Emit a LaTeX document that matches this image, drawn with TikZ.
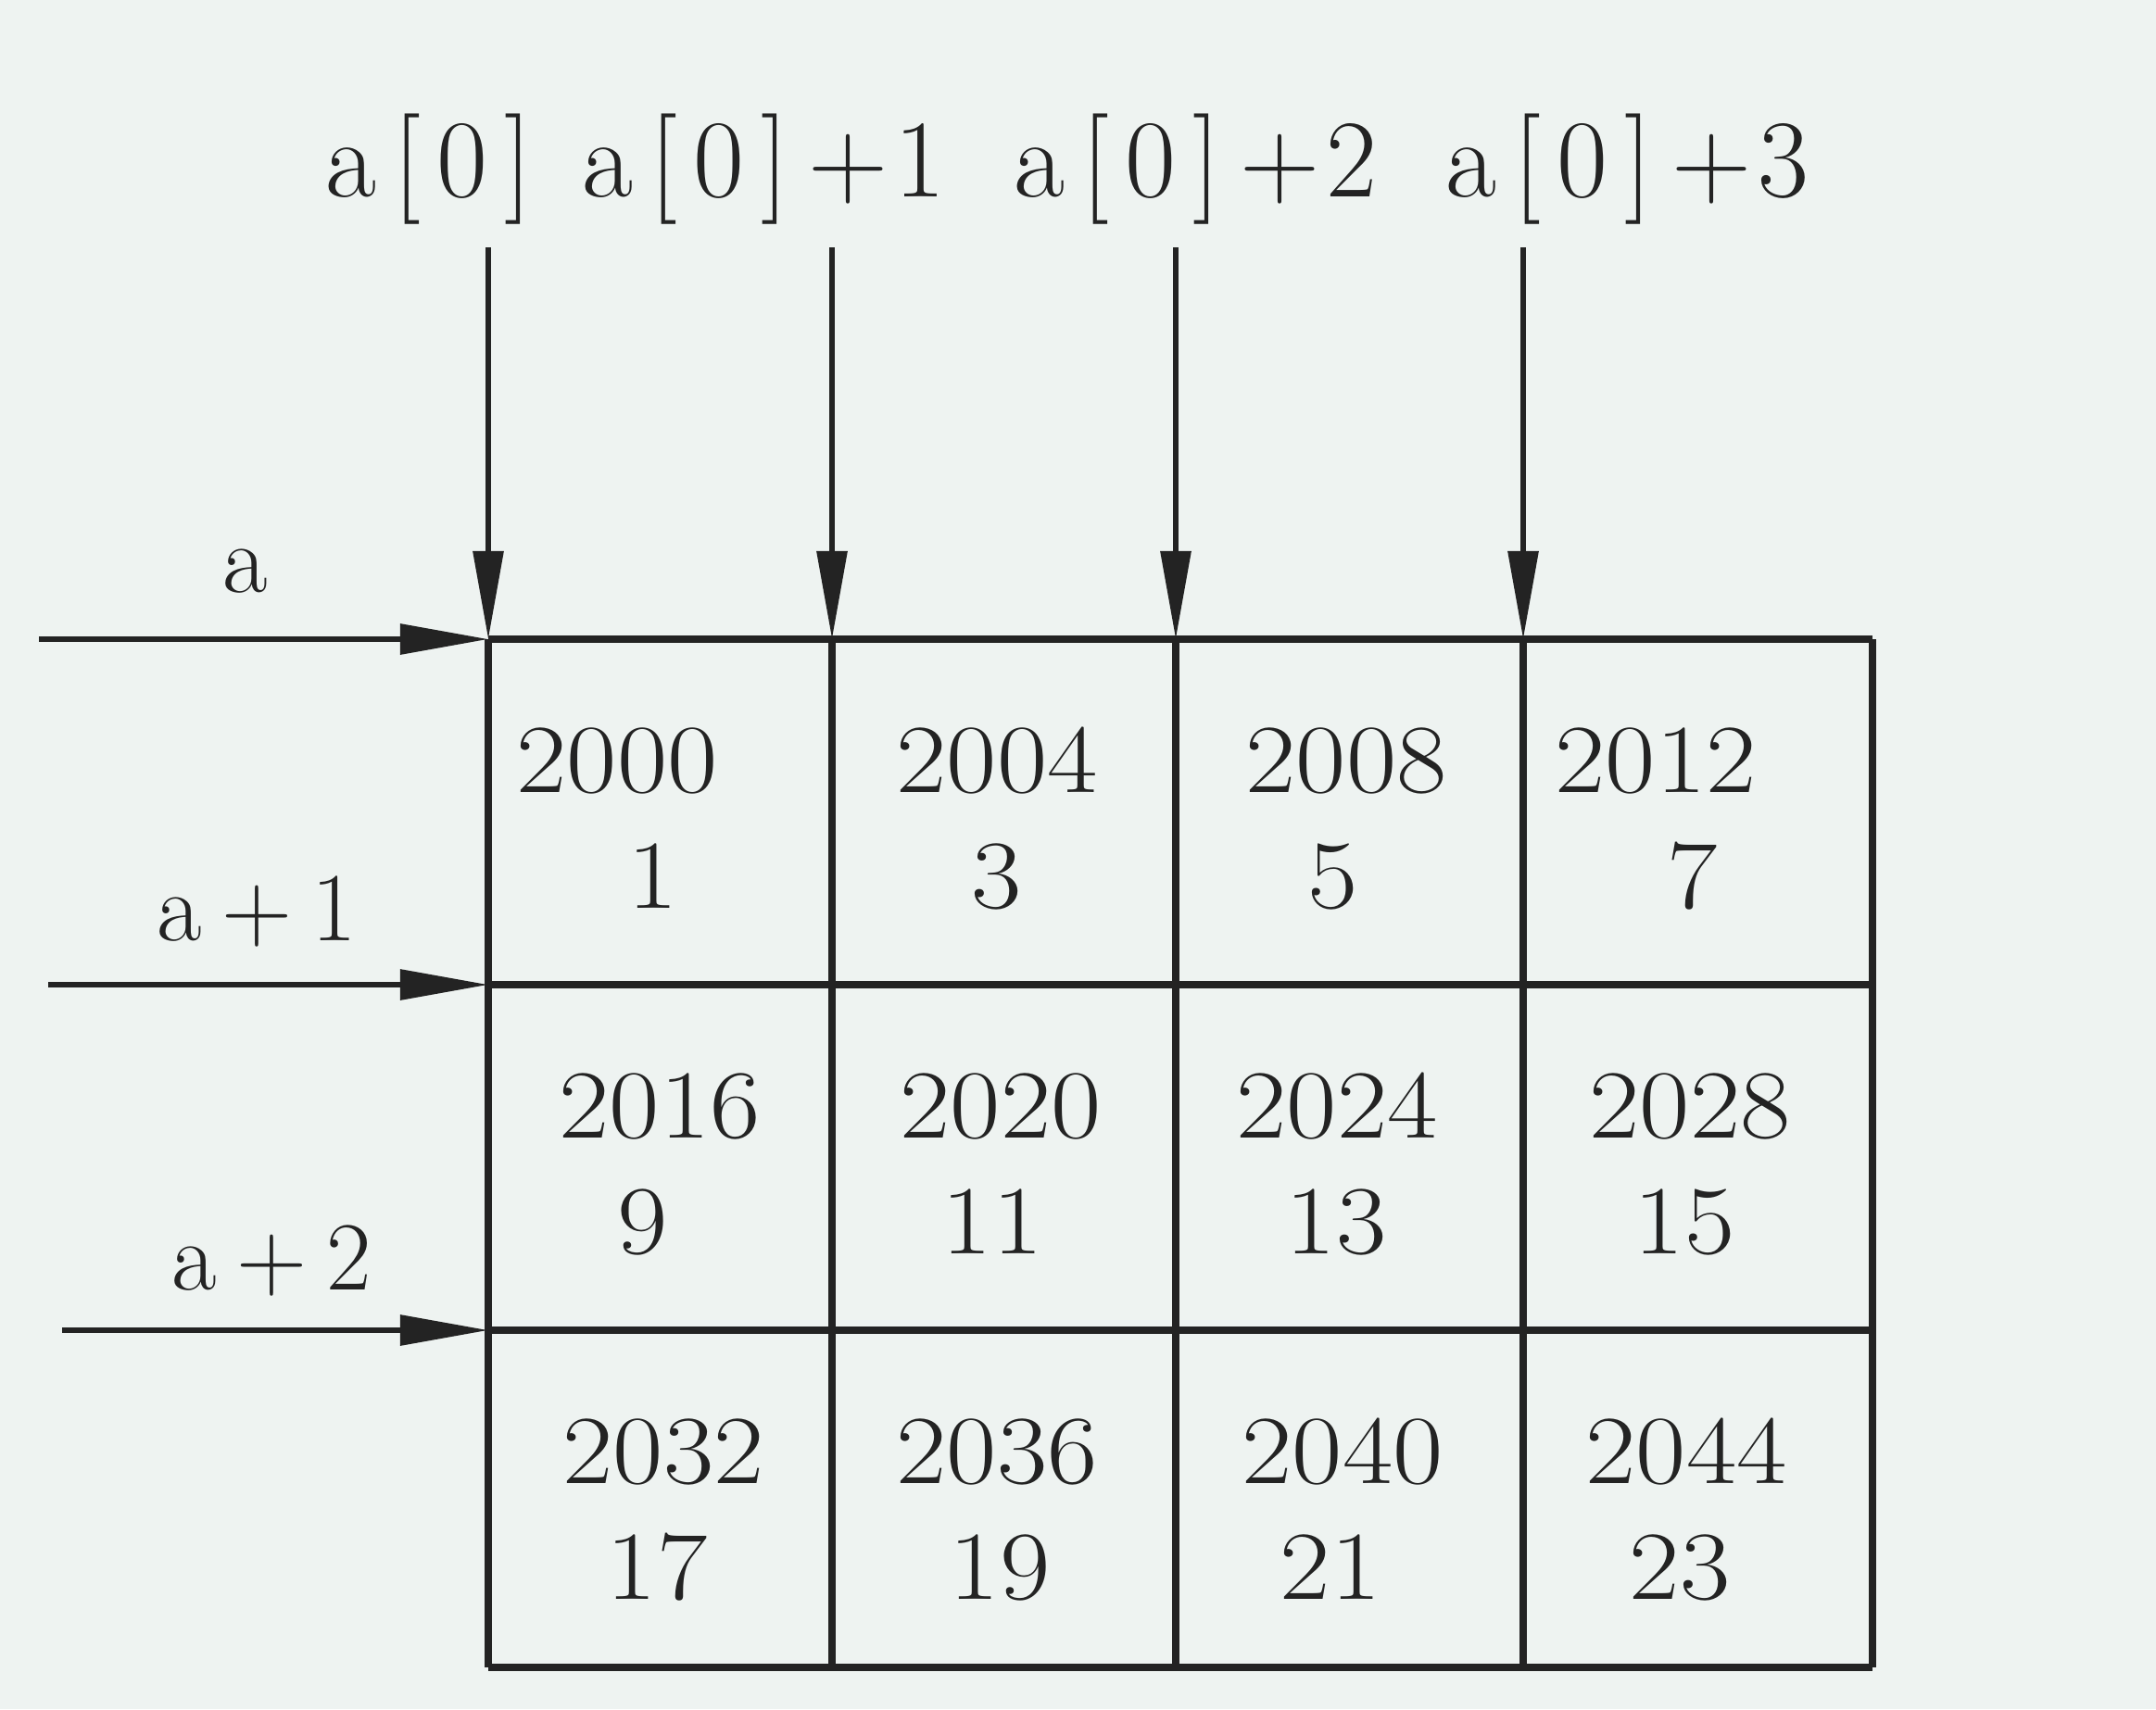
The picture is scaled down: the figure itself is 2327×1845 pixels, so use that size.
\documentclass[tikz,border=0pt]{standalone}
\usetikzlibrary{arrows.meta,calc}
\definecolor{bgc}{RGB}{238,243,241}
\definecolor{ink}{RGB}{35,35,35}
\newcommand{\azero}{a\kern5pt[\kern5pt0\kern5pt]}
\newcommand{\azplus}[1]{\azero\kern6pt+\kern2pt#1}
\newcommand{\widenum}[1]{\scalebox{1.12}[1]{#1}}
\begin{document}
\begin{tikzpicture}[x=0.01cm,y=-0.01cm,
  gridline/.style={draw=ink,line width=2.1pt},
  arr/.style={draw=ink,line width=1.7pt,-{Triangle[length=9.5mm,width=3.2mm]}},
  cell/.style={anchor=base,text=ink,font=\fontsize{30}{36}\selectfont,inner sep=0pt},
  toplab/.style={anchor=base west,text=ink,font=\fontsize{34}{40}\selectfont,inner sep=0pt},
  leftlab/.style={anchor=base,text=ink,font=\fontsize{30}{36}\selectfont,inner sep=0pt}]
\useasboundingbox (0,0) rectangle (2327,1845);
\fill[bgc] (0,0) rectangle (2327,1845);
% grid corner coordinates
\foreach \c/\x in {0/527,1/898,2/1269,3/1644,4/2021}{
  \foreach \r/\y in {0/690,1/1063,2/1436,3/1800}{
    \coordinate (g-\r-\c) at (\x,\y);
  }
}
% grid
\foreach \r in {0,1,2,3}{\draw[gridline] (g-\r-0) -- (g-\r-4);}
\foreach \c in {0,1,2,3,4}{\draw[gridline] (g-0-\c) -- (g-3-\c);}
% cells: row/col/row-top y/address x/value x
\foreach \r/\c/\ry/\ax/\vx in {0/0/690/666/705,0/1/690/1076/1076,0/2/690/1453/1439,0/3/690/1787/1827,
                           1/0/1063/712/694,1/1/1063/1080/1071,1/2/1063/1443/1442,1/3/1063/1824/1818,
                           2/0/1436/716/709,2/1/1436/1076/1079,2/2/1436/1449/1436,2/3/1436/1820/1813}{
    \pgfmathtruncatemacro{\k}{4*\r+\c}
    \pgfmathtruncatemacro{\addr}{2000+4*\k}
    \pgfmathtruncatemacro{\val}{2*\k+1}
    \pgfmathtruncatemacro{\ay}{\ry+165}
    \pgfmathtruncatemacro{\vy}{\ry+290}
    \node[cell] (addr-\r-\c) at (\ax,\ay) {\widenum{\addr}};
    \node[cell] (val-\r-\c) at (\vx,\vy) {\widenum{\val}};
}
% top labels
\node[toplab] (t0) at (351,212) {\azero};
\node[toplab] (t1) at (628,212) {\azplus{1}};
\node[toplab] (t2) at (1094,212) {\azplus{2}};
\node[toplab] (t3) at (1560,212) {\azplus{3}};
% top arrows
\foreach \c/\x in {0/527,1/898,2/1269,3/1644}{
  \coordinate (s\c) at (\x,267);
  \draw[arr] (s\c) -- (g-0-\c);
}
% left labels
\node[leftlab] (l0) at (265,639) {a};
\node[leftlab] (l1) at (277,1015) {a\kern6pt+\kern6pt1};
\node[leftlab] (l2) at (293,1392) {a\kern6pt+\kern6pt2};
% left arrows
\coordinate (h0) at (42,690);
\coordinate (h1) at (52,1063);
\coordinate (h2) at (67,1436);
\foreach \r in {0,1,2}{\draw[arr] (h\r) -- (g-\r-0);}
\end{tikzpicture}
\end{document}
